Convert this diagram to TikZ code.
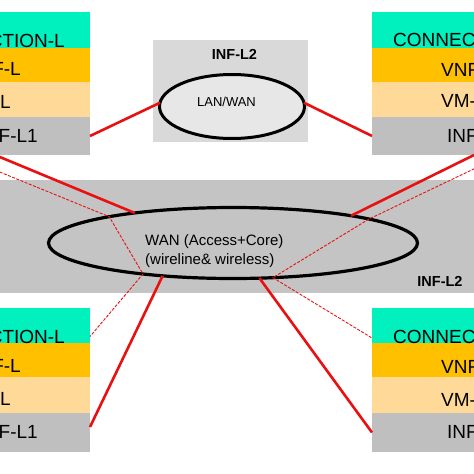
\documentclass[tikz,border=0pt]{standalone}
\usepackage{fontspec}
\setmainfont{Liberation Sans}
\usepackage{xcolor}
\usepackage{tikz}
\usetikzlibrary{shapes.geometric}

\definecolor{connl}{RGB}{0,240,190}
\definecolor{vnfl}{RGB}{255,192,0}
\definecolor{vml}{RGB}{255,217,152}
\definecolor{infl}{RGB}{191,191,191}
\definecolor{bandgray}{RGB}{196,196,196}
\definecolor{boxgray}{RGB}{217,217,217}
\definecolor{lanfill}{RGB}{231,231,231}
\definecolor{linkred}{RGB}{232,16,16}

\begin{document}
\begin{tikzpicture}[x=1pt,y=-1pt,
    layer/.style={rectangle, inner sep=0pt, outer sep=0pt, minimum width=190pt},
    lbl/.style={inner sep=0pt, font=\fontsize{19}{22}\selectfont},
    link/.style={draw=linkred, line width=2.6pt},
    dlink/.style={draw=linkred, line width=0.9pt, dash pattern=on 3pt off 1.5pt}]

\useasboundingbox (0,0) rectangle (474,474);
\clip (0,0) rectangle (474,474);

    % INF-L2 areas
    \node[rectangle,
          fill = bandgray,
          inner sep = 0pt,
          minimum width = 500pt,
          minimum height = 113pt
          ] (band) at (237,236.5) {};
    \node[rectangle,
          fill = boxgray,
          inner sep = 0pt,
          minimum width = 155pt,
          minimum height = 102pt
          ] (lanbox) at (230.5,91) {};

    \node[ellipse,
          draw,
          line width = 3pt,
          fill = lanfill,
          inner sep = 0pt,
          outer sep = 0pt,
          minimum width = 145pt,
          minimum height = 64pt
          ] (lan) at (232,106.5) {};
    \node[ellipse,
          draw,
          line width = 3.2pt,
          fill = bandgray,
          inner sep = 0pt,
          outer sep = 0pt,
          minimum width = 369pt,
          minimum height = 71pt
          ] (wan) at (233,243) {};

    \node[inner sep=0pt, font=\fontsize{14.5}{16}\selectfont\bfseries,
          anchor=base] at (234.5,59) {INF-L2};
    \node[inner sep=0pt, font=\fontsize{14.5}{16}\selectfont\bfseries,
          anchor=base] at (440,286) {INF-L2};
    \node[inner sep=0pt, font=\fontsize{13}{15}\selectfont,
          anchor=base] at (226.5,106) {LAN/WAN};
    \node[inner sep=0pt, font=\fontsize{15}{19}\selectfont,
          align=left, anchor=west] at (145,251) {WAN (Access+Core)\\(wireline\& wireless)};

    % top stacks
    \node[layer, fill = connl, minimum height = 36pt] (tl1) at (-5,30) {};
    \node[layer, fill = vnfl, minimum height = 34pt] (tl2) at (-5,65) {};
    \node[layer, fill = vml, minimum height = 35pt] (tl3) at (-5,99.5) {};
    \node[layer, fill = infl, minimum height = 38pt] (tl4) at (-5,136) {};

    \node[layer, fill = connl, minimum height = 36pt] (tr1) at (467,30) {};
    \node[layer, fill = vnfl, minimum height = 34pt] (tr2) at (467,65) {};
    \node[layer, fill = vml, minimum height = 35pt] (tr3) at (467,99.5) {};
    \node[layer, fill = infl, minimum height = 38pt] (tr4) at (467,136) {};

    % bottom stacks
    \node[layer, fill = connl, minimum height = 35pt] (bl1) at (-5,325.5) {};
    \node[layer, fill = vnfl, minimum height = 34pt] (bl2) at (-5,360) {};
    \node[layer, fill = vml, minimum height = 36pt] (bl3) at (-5,395) {};
    \node[layer, fill = infl, minimum height = 39pt] (bl4) at (-5,432.5) {};

    \node[layer, fill = connl, minimum height = 35pt] (br1) at (467,325.5) {};
    \node[layer, fill = vnfl, minimum height = 34pt] (br2) at (467,360) {};
    \node[layer, fill = vml, minimum height = 36pt] (br3) at (467,395) {};
    \node[layer, fill = infl, minimum height = 39pt] (br4) at (467,432.5) {};

    % layer names
    \node[lbl, anchor=base east] at (65,47) {CONNECTION-L};
    \node[lbl, anchor=base east] at (21,75) {VNF-L};
    \node[lbl, anchor=base east] at (11,108) {VM-L};
    \node[lbl, anchor=base east] at (38,142) {INF-L1};
    \node[lbl, anchor=base west] at (393,46) {CONNECTION-L};
    \node[lbl, anchor=base west] at (441,76.5) {VNF-L};
    \node[lbl, anchor=base west] at (441,107) {VM-L};
    \node[lbl, anchor=base west] at (447,142) {INF-L1};
    \node[lbl, anchor=base east] at (65,343) {CONNECTION-L};
    \node[lbl, anchor=base east] at (21,372) {VNF-L};
    \node[lbl, anchor=base east] at (11,405) {VM-L};
    \node[lbl, anchor=base east] at (38,438) {INF-L1};
    \node[lbl, anchor=base west] at (393,343) {CONNECTION-L};
    \node[lbl, anchor=base west] at (441,373) {VNF-L};
    \node[lbl, anchor=base west] at (441,406) {VM-L};
    \node[lbl, anchor=base west] at (447,438) {INF-L1};

    % links
    \path
    (tl4.east) edge [link] (lan.177)
    (lan.3) edge [link] (tr4.west)
    (tl4.south) edge [link] (wan.163)
    ([xshift=7pt]tr4.south) edge [link] (wan.13.8)
    (wan.205) edge [link] ([yshift=5.5pt]bl4.east)
    (wan.307.6) edge [link] (br4.west);

    \draw[dlink] ([xshift=-37pt]tl4.south) -- (wan.168.4) -- (wan.199)
        -- ([yshift=-11pt]bl1.east);
    \draw[dlink] ([xshift=36pt]tr4.south) -- (wan.10.8) -- (wan.319.1)
        -- ([yshift=-12.5pt]br1.west);

\end{tikzpicture}
\end{document}
